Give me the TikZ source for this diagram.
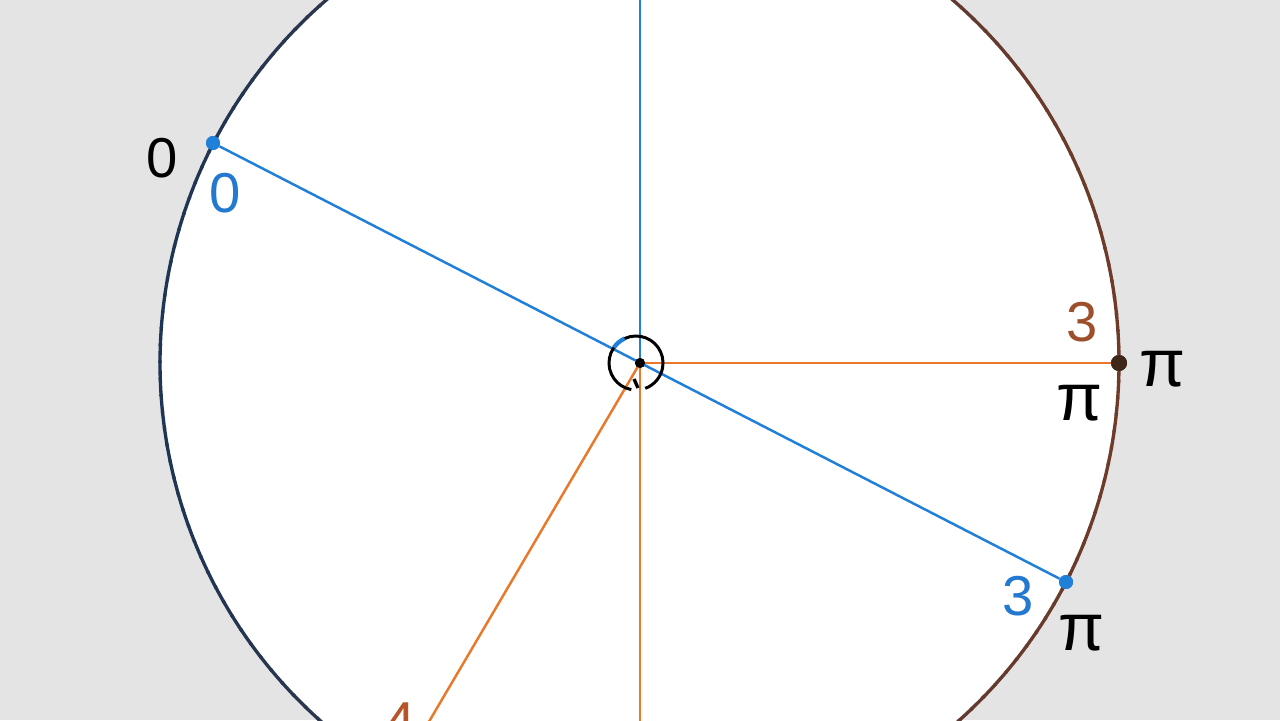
\documentclass[tikz,border=0pt]{standalone}
\usepackage{fontspec}
\setmainfont{Liberation Sans}
\definecolor{bg}{HTML}{E4E4E4}
\definecolor{rimnavy}{HTML}{1E3555}
\definecolor{rimbrown}{HTML}{6E3B28}
\definecolor{lineblue}{HTML}{1F7FD9}
\definecolor{lineorange}{HTML}{E8782A}
\definecolor{labbrown}{HTML}{9C4F2A}
\definecolor{labblue}{HTML}{2378D0}
\definecolor{dotbrown}{HTML}{3E2618}
\definecolor{four}{HTML}{B5552A}
\begin{document}
\begin{tikzpicture}[x=0.02cm,y=-0.02cm,
  bluel/.style={draw=lineblue,line width=1.4pt},
  orangel/.style={draw=lineorange,line width=1.4pt},
  bdot/.style={circle,fill=lineblue,inner sep=0pt,minimum size=0.28cm},
  rdot/.style={circle,fill=dotbrown,inner sep=0pt,minimum size=0.32cm},
  cdot/.style={circle,fill=black,inner sep=0pt,minimum size=0.2cm},
  lab/.style={inner sep=0pt,font=\fontsize{32}{36}\selectfont},
  pilab/.style={inner sep=0pt,font=\fontsize{38}{42}\selectfont,text=black}]
\useasboundingbox (0,0) rectangle (1280,720);
\clip (0,0) rectangle (1280,720);
\fill[bg] (0,0) rectangle (1280,720);
\fill[white] (639.5,363) circle[radius=479.5];
% nodes
\node[cdot] (c) at (640,363) {};
\node[bdot] (p0) at (213,143) {};
\node[bdot] (p3) at (1066,582) {};
\node[rdot] (ppi) at (1119,363) {};
\coordinate (ctop) at (640,-117);
\coordinate (cbot) at (640,843);
\coordinate (cdiag) at (397,776);
% connectors
\draw[bluel] (c.center) -- (ctop);
\draw[bluel] (p0) -- (p3);
\draw[orangel] (c.center) -- (ppi);
\draw[orangel] (c.center) -- (cbot);
\draw[orangel] (c.center) -- (cdiag);
% rim
\foreach \a in {0,2,...,358} {
  \pgfmathsetmacro\p{50+50*cos(\a+1)}
  \draw[line width=1.9pt,color=rimbrown!\p!rimnavy] (639.5,363) ++(\a:479.5) arc[start angle=\a,end angle=\a+2.3,radius=479.5];
}
% scribble around centre
\draw[black,line width=1.7pt] (636,363) ++(100:27) arc[start angle=100,end angle=430,radius=27];
\draw[lineblue,line width=2.4pt] (636,363) ++(215:27) arc[start angle=215,end angle=245,radius=27];
\draw[black,line width=1.9pt] (c.center) ++(-6,16) -- ++(4,9);
\node[cdot] at (c) {};
\node[bdot] at (p0) {};
\node[bdot] at (p3) {};
\node[rdot] at (ppi) {};
% labels
\node[lab,text=black] (l0) at (162,158) {0};
\node[lab,text=labblue] (l0b) at (225,193) {0};
\node[lab,text=labbrown] (l3) at (1082,322) {3};
\node[pilab] (pi1) at (1163,369) {π};
\node[pilab] (pi2) at (1080,403) {π};
\node[lab,text=labblue] (l3b) at (1018,596) {3};
\node[pilab] (pi3) at (1082,633) {π};
\node[lab,text=four] (l4) at (400,722) {4};
\end{tikzpicture}
\end{document}
